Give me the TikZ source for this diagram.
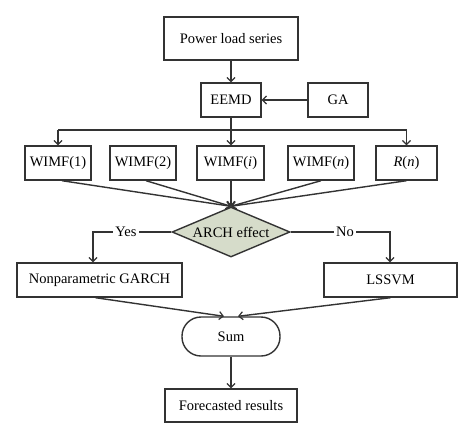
\documentclass[tikz,border=0pt]{standalone}
\usepackage{fontspec}
\setmainfont{Liberation Serif}
\usetikzlibrary{arrows.meta,shapes.geometric}
\definecolor{ln}{HTML}{333333}
\definecolor{dfill}{HTML}{D6DCCA}
\tikzset{
  txt/.style={font=\fontsize{14.5}{16}\selectfont},
  box/.style={txt, draw=ln, line width=1.4pt, fill=white, minimum height=34pt, inner sep=0pt, text=black},
  dia/.style={txt, diamond, draw=ln, line width=1.4pt, fill=dfill, aspect=2.36, minimum width=118pt, minimum height=50pt, inner sep=0pt},
  sumbox/.style={txt, draw=ln, line width=1.4pt, rounded corners=19pt, minimum width=98pt, minimum height=39pt, inner sep=0pt},
  ln/.style={draw=ln, line width=1.4pt},
  arr/.style={ln, -{Straight Barb[length=4pt,width=8pt,line width=1.2pt]}},
  lbl/.style={txt, fill=white, inner sep=2pt}
}
\begin{document}
\begin{tikzpicture}[x=1pt,y=-1pt]
\useasboundingbox (0,0) rectangle (474,440);
\node[box, minimum width=134pt, minimum height=43pt] (pls) at (231,38.5) {Power load series};
\node[box, minimum width=60pt] (eemd) at (231,100) {EEMD};
\node[box, minimum width=60pt] (ga) at (338,100) {GA};
\node[box, minimum width=66pt] (w1) at (58,163) {WIMF(1)};
\node[box, minimum width=66pt] (w2) at (143,163) {WIMF(2)};
\node[box, minimum width=67pt] (wi) at (230.5,163) {WIMF(\textit{i})};
\node[box, minimum width=66pt] (wn) at (321,163) {WIMF(\textit{n})};
\node[box, minimum width=61pt] (rn) at (406.5,163) {\textit{R}(\textit{n})};
\node[dia] (arch) at (231,232) {ARCH effect};
\node[box, minimum width=165pt] (garch) at (99.5,280) {Nonparametric GARCH};
\node[box, minimum width=133pt] (lssvm) at (390.5,280) {LSSVM};
\node[sumbox] (sum) at (231,336.5) {Sum};
\node[box, minimum width=132pt, minimum height=33pt] (fr) at (231,405.5) {Forecasted results};
\coordinate (bus) at (231,130);
\coordinate (busl) at (58,130);
\coordinate (busr) at (406.5,130);
\draw[arr] (pls) -- (eemd);
\draw[arr] (ga) -- (eemd);
\draw[ln] (eemd.south) -- (bus);
\draw[ln] (busl) -- (busr);
\draw[arr] (busl) -- (w1.north);
\draw[arr] (bus) -- (wi.north -| bus);
\draw[arr] (busr) -- (rn.north);
\draw[arr] ([xshift=4pt]w1.south) -- (arch.north);
\draw[arr] ([xshift=3pt]w2.south) -- (arch.north);
\draw[arr] (wi.south -| arch.north) -- (arch.north);
\draw[arr] (wn.south) -- (arch.north);
\draw[arr] (rn.south) -- (arch.north);
\coordinate (yc) at (93,232);
\coordinate (nc) at (390,232);
\draw[arr] (arch.west) -- (yc) -- (garch.north -| yc);
\draw[arr] (arch.east) -- (nc) -- (lssvm.north -| nc);
\node[lbl] (yes) at (126,232) {Yes};
\node[lbl] (no) at (345,232) {No};
\draw[arr] ([xshift=-4pt]garch.south) -- ([xshift=-7pt]sum.north);
\draw[arr] (lssvm.south) -- ([xshift=7pt]sum.north);
\draw[arr] (sum) -- (fr);
\end{tikzpicture}
\end{document}
